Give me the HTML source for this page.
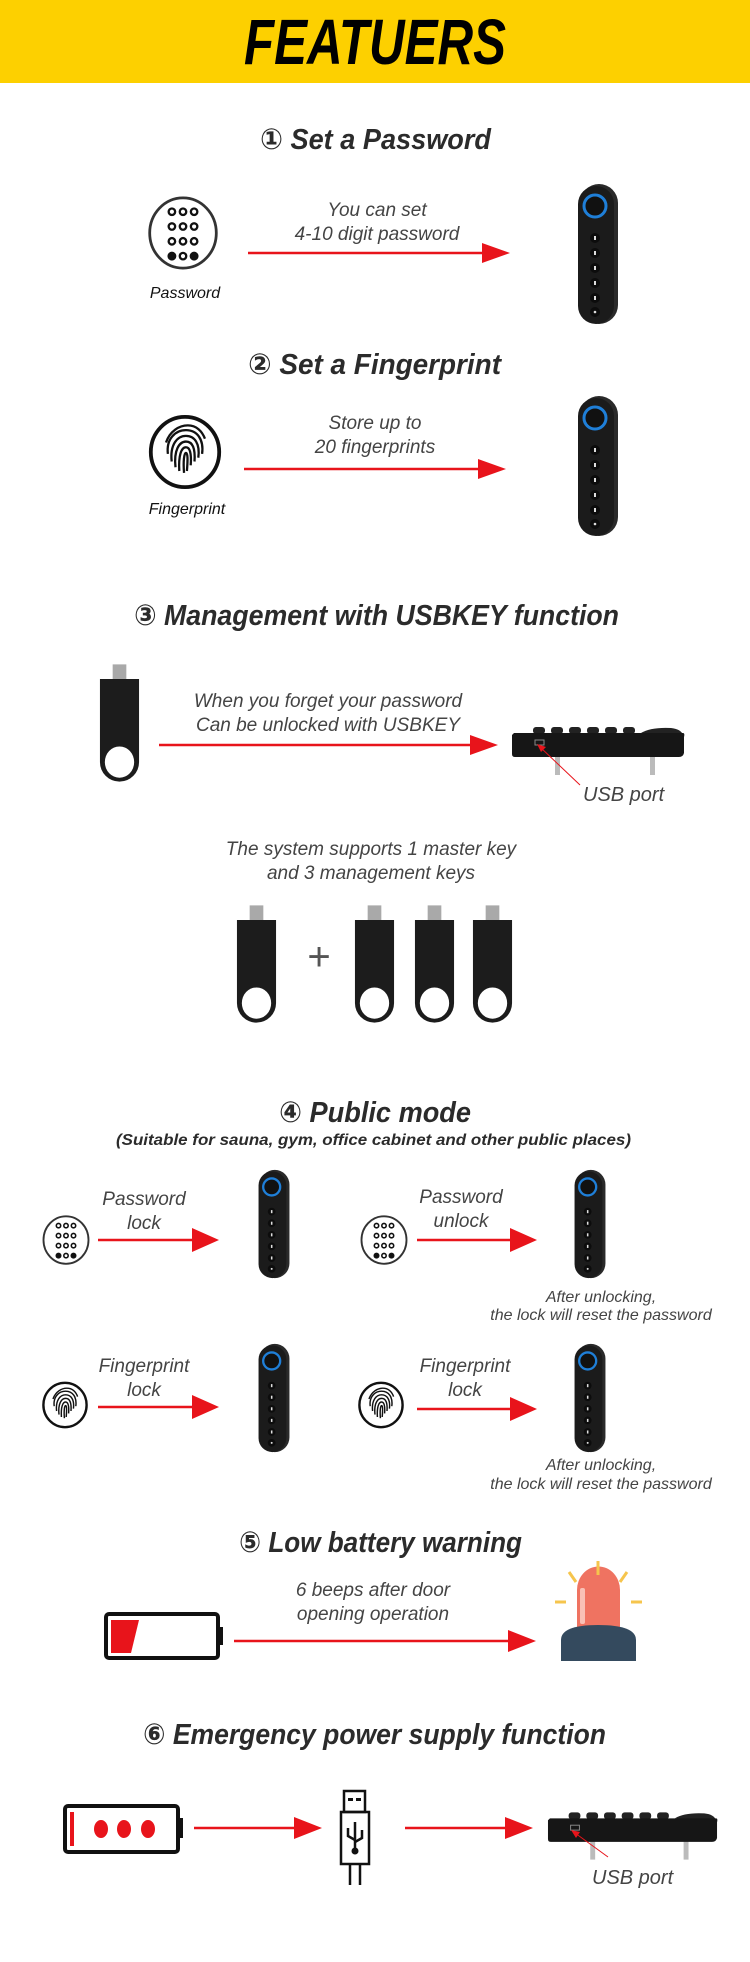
<!DOCTYPE html>
<html><head><meta charset="utf-8"><style>
html,body{margin:0;padding:0;background:#fff}
svg{display:block}
.t{font-family:"Liberation Sans","DejaVu Sans",sans-serif;font-weight:bold;font-style:italic;fill:#2b2b2b}
.b{font-family:"Liberation Sans","DejaVu Sans",sans-serif;font-style:italic;fill:#444;font-size:19px}
</style></head><body>
<svg width="750" height="1962" viewBox="0 0 750 1962" xmlns="http://www.w3.org/2000/svg">
<defs>
<symbol id="lock" viewBox="0 0 44 144">
<rect x="4" y="2" width="38" height="140" rx="19" fill="#2a2a2a"/>
<rect x="2" y="4" width="36" height="138" rx="18" fill="#1b1b1b"/>
<circle cx="19" cy="24" r="11" fill="#111" stroke="#1f7fd8" stroke-width="3"/>
<g fill="#0c0c0c"><circle cx="19" cy="56" r="5"/><circle cx="19" cy="71" r="5"/><circle cx="19" cy="86" r="5"/><circle cx="19" cy="101" r="5"/><circle cx="19" cy="116" r="5"/><circle cx="19" cy="130" r="5"/></g>
<g fill="#ddd"><rect x="18" y="54" width="2" height="4"/><rect x="18" y="69" width="2" height="4"/><rect x="18" y="84" width="2" height="4"/><rect x="18" y="99" width="2" height="4"/><rect x="18" y="114" width="2" height="4"/><circle cx="19" cy="130" r="1.3"/></g>
</symbol>
<symbol id="key" viewBox="0 0 44 122">
<rect x="15" y="0" width="14" height="15" fill="#a9a9a9"/>
<path d="M2 15H42V100A20 20 0 0 1 2 100Z" fill="#1c1c1c"/>
<ellipse cx="22" cy="100" rx="15" ry="16" fill="#fff"/>
</symbol>
<symbol id="pad" viewBox="0 0 80 80">
<ellipse cx="40" cy="40" rx="36" ry="38" fill="#fff" stroke="#333" stroke-width="3"/>
<g fill="none" stroke="#111" stroke-width="2.5">
<circle cx="28" cy="17" r="3.5"/><circle cx="40" cy="17" r="3.5"/><circle cx="52" cy="17" r="3.5"/>
<circle cx="28" cy="33" r="3.5"/><circle cx="40" cy="33" r="3.5"/><circle cx="52" cy="33" r="3.5"/>
<circle cx="28" cy="49" r="3.5"/><circle cx="40" cy="49" r="3.5"/><circle cx="52" cy="49" r="3.5"/>
<circle cx="40" cy="65" r="3.5"/></g>
<circle cx="28" cy="65" r="4.8" fill="#111"/><circle cx="52" cy="65" r="4.8" fill="#111"/>
</symbol>
<symbol id="fp" viewBox="0 0 80 80">
<ellipse cx="40" cy="40" rx="36" ry="37" fill="#fff" stroke="#111" stroke-width="4"/>
<g fill="none" stroke="#111" stroke-width="2.4">
<path d="M22 42C20 26 30 17 41 17C53 17 60 27 58 42"/>
<path d="M26 50C24 32 32 23 41 23C50 23 56 31 54 46"/>
<path d="M30 56C28 38 34 29 41 29C48 29 51 36 50 50"/>
<path d="M34 60C33 44 36 35 41 35C45 35 47 41 46 54"/>
<path d="M39 62C38 50 39 41 41 41C43 41 43 48 42 60"/>
<path d="M20 30C24 18 34 12 43 12C52 12 58 18 61 26"/>
</g>
</symbol>
<symbol id="dev" viewBox="0 0 175 50">
<g fill="#222"><rect x="22" y="0" width="12" height="7" rx="3"/><rect x="40" y="0" width="12" height="7" rx="3"/><rect x="58" y="0" width="12" height="7" rx="3"/><rect x="76" y="0" width="12" height="7" rx="3"/><rect x="94" y="0" width="12" height="7" rx="3"/><rect x="112" y="0" width="12" height="7" rx="3"/><path d="M130 6Q140 0 160 1Q170 2 172 8Z"/></g>
<rect x="44" y="28" width="5" height="20" fill="#bbb"/><rect x="139" y="28" width="5" height="20" fill="#bbb"/>
<path d="M3 6H172Q174 6 173 10V26Q172 30 168 30H4Q1 30 1 27V8Z" fill="#161616"/>
<rect x="24" y="13" width="9" height="5" fill="none" stroke="#888" stroke-width="1"/>
</symbol>
</defs>

<rect x="0" y="0" width="750" height="83" fill="#fdd000"/>
<text class="t" x="375" y="64" text-anchor="middle" font-size="64" fill="#000" style="fill:#000" textLength="262" lengthAdjust="spacingAndGlyphs">FEATUERS</text>

<!-- section 1 -->
<text class="t" x="260" y="149" font-size="29" textLength="231" lengthAdjust="spacingAndGlyphs">① Set a Password</text>
<use href="#pad" x="146" y="196" width="74" height="74"/>
<text class="b" x="185" y="298" text-anchor="middle" font-size="16" style="font-size:16px;fill:#111">Password</text>
<text class="b" x="377" y="216" text-anchor="middle">You can set</text>
<text class="b" x="377" y="240" text-anchor="middle">4-10 digit password</text>
<line x1="248" y1="253" x2="486" y2="253" stroke="#e8141b" stroke-width="2.5"/>
<polygon points="482,243 510,253 482,263" fill="#e8141b"/>
<use href="#lock" x="576" y="182" width="44" height="144"/>

<!-- section 2 -->
<text class="t" x="248" y="374" font-size="29" textLength="253" lengthAdjust="spacingAndGlyphs">② Set a Fingerprint</text>
<use href="#fp" x="147" y="414" width="76" height="76"/>
<text class="b" x="187" y="514" text-anchor="middle" style="font-size:16px;fill:#111">Fingerprint</text>
<text class="b" x="375" y="429" text-anchor="middle">Store up to</text>
<text class="b" x="375" y="453" text-anchor="middle">20 fingerprints</text>
<line x1="244" y1="469" x2="482" y2="469" stroke="#e8141b" stroke-width="2.5"/>
<polygon points="478,459 506,469 478,479" fill="#e8141b"/>
<use href="#lock" x="576" y="394" width="44" height="144"/>

<!-- section 3 -->
<text class="t" x="134" y="625" font-size="29" textLength="485" lengthAdjust="spacingAndGlyphs">③ Management with USBKEY function</text>
<use href="#key" x="98" y="663" width="43" height="122"/>
<text class="b" x="328" y="707" text-anchor="middle">When you forget your password</text>
<text class="b" x="328" y="731" text-anchor="middle">Can be unlocked with USBKEY</text>
<line x1="159" y1="745" x2="474" y2="745" stroke="#e8141b" stroke-width="2.5"/>
<polygon points="470,735 498,745 470,755" fill="#e8141b"/>
<use href="#dev" x="511" y="727" width="175" height="50"/>
<line x1="540" y1="747" x2="580" y2="785" stroke="#e8141b" stroke-width="1"/>
<polygon points="537,744 546,747 541,752" fill="#e8141b"/>
<text class="b" x="583" y="801" style="font-size:20px">USB port</text>
<text class="b" x="371" y="855" text-anchor="middle">The system supports 1 master key</text>
<text class="b" x="371" y="879" text-anchor="middle">and 3 management keys</text>
<use href="#key" x="235" y="904" width="43" height="122"/>
<text x="319" y="970" text-anchor="middle" font-family="Liberation Sans,sans-serif" font-size="40" fill="#555">+</text>
<use href="#key" x="353" y="904" width="43" height="122"/>
<use href="#key" x="413" y="904" width="43" height="122"/>
<use href="#key" x="471" y="904" width="43" height="122"/>

<!-- section 4 -->
<text class="t" x="279" y="1122" font-size="29" textLength="192" lengthAdjust="spacingAndGlyphs">④ Public mode</text>
<text class="t" x="116" y="1145" font-size="16" textLength="515" lengthAdjust="spacingAndGlyphs">(Suitable for sauna, gym, office cabinet and other public places)</text>

<use href="#pad" x="41" y="1214" width="50" height="52"/>
<text class="b" x="144" y="1205" text-anchor="middle">Password</text>
<text class="b" x="144" y="1229" text-anchor="middle">lock</text>
<line x1="98" y1="1240" x2="198" y2="1240" stroke="#e8141b" stroke-width="2.5"/>
<polygon points="192,1228 219,1240 192,1252" fill="#e8141b"/>
<use href="#lock" x="257" y="1168" width="34" height="112"/>

<use href="#pad" x="359" y="1214" width="50" height="52"/>
<text class="b" x="461" y="1203" text-anchor="middle">Password</text>
<text class="b" x="461" y="1227" text-anchor="middle">unlock</text>
<line x1="417" y1="1240" x2="515" y2="1240" stroke="#e8141b" stroke-width="2.5"/>
<polygon points="510,1228 537,1240 510,1252" fill="#e8141b"/>
<use href="#lock" x="573" y="1168" width="34" height="112"/>
<text class="b" x="601" y="1302" text-anchor="middle" style="font-size:16px">After unlocking,</text>
<text class="b" x="601" y="1320" text-anchor="middle" style="font-size:16px">the lock will reset the password</text>

<use href="#fp" x="41" y="1380" width="48" height="50"/>
<text class="b" x="144" y="1372" text-anchor="middle">Fingerprint</text>
<text class="b" x="144" y="1396" text-anchor="middle">lock</text>
<line x1="98" y1="1407" x2="198" y2="1407" stroke="#e8141b" stroke-width="2.5"/>
<polygon points="192,1395 219,1407 192,1419" fill="#e8141b"/>
<use href="#lock" x="257" y="1342" width="34" height="112"/>

<use href="#fp" x="357" y="1380" width="48" height="50"/>
<text class="b" x="465" y="1372" text-anchor="middle">Fingerprint</text>
<text class="b" x="465" y="1396" text-anchor="middle">lock</text>
<line x1="417" y1="1409" x2="515" y2="1409" stroke="#e8141b" stroke-width="2.5"/>
<polygon points="510,1397 537,1409 510,1421" fill="#e8141b"/>
<use href="#lock" x="573" y="1342" width="34" height="112"/>
<text class="b" x="601" y="1470" text-anchor="middle" style="font-size:16px">After unlocking,</text>
<text class="b" x="601" y="1489" text-anchor="middle" style="font-size:16px">the lock will reset the password</text>

<!-- section 5 -->
<text class="t" x="239" y="1552" font-size="29" textLength="283" lengthAdjust="spacingAndGlyphs">⑤ Low battery warning</text>
<rect x="106" y="1614" width="112" height="44" rx="3" fill="#fff" stroke="#111" stroke-width="4"/>
<rect x="218" y="1627" width="5" height="18" fill="#111"/>
<polygon points="111,1620 139,1620 131,1653 111,1653" fill="#e8141b"/>
<text class="b" x="373" y="1596" text-anchor="middle">6 beeps after door</text>
<text class="b" x="373" y="1620" text-anchor="middle">opening operation</text>
<line x1="234" y1="1641" x2="512" y2="1641" stroke="#e8141b" stroke-width="2.5"/>
<polygon points="508,1630 536,1641 508,1652" fill="#e8141b"/>
<g>
<path d="M577 1627V1590A21 23 0 0 1 620 1590V1627Z" fill="#ef7361"/>
<rect x="580" y="1588" width="5" height="36" rx="2" fill="#f9c0b5"/>
<path d="M561 1661V1640Q561 1625 598 1625Q636 1625 636 1640V1661Z" fill="#344a5e"/>
<g stroke="#f6c54d" stroke-width="3"><line x1="598" y1="1561" x2="598" y2="1575"/><line x1="569" y1="1572" x2="576" y2="1582"/><line x1="627" y1="1572" x2="620" y2="1582"/><line x1="555" y1="1602" x2="566" y2="1602"/><line x1="631" y1="1602" x2="642" y2="1602"/></g>
</g>

<!-- section 6 -->
<text class="t" x="143" y="1744" font-size="29" textLength="463" lengthAdjust="spacingAndGlyphs">⑥ Emergency power supply function</text>
<rect x="65" y="1806" width="113" height="46" rx="3" fill="#fff" stroke="#111" stroke-width="4"/>
<rect x="178" y="1818" width="5" height="20" fill="#111"/>
<rect x="70" y="1812" width="4" height="34" fill="#e8141b"/>
<ellipse cx="101" cy="1829" rx="7" ry="9" fill="#e8141b"/>
<ellipse cx="124" cy="1829" rx="7" ry="9" fill="#e8141b"/>
<ellipse cx="148" cy="1829" rx="7" ry="9" fill="#e8141b"/>
<line x1="194" y1="1828" x2="297" y2="1828" stroke="#e8141b" stroke-width="2.5"/>
<polygon points="294,1817 322,1828 294,1839" fill="#e8141b"/>
<g fill="none" stroke="#111" stroke-width="2.5">
<rect x="344" y="1791" width="21" height="21"/><rect x="341" y="1812" width="28" height="52"/>
<line x1="350" y1="1865" x2="350" y2="1885"/><line x1="360" y1="1865" x2="360" y2="1885"/>
<line x1="355" y1="1822" x2="355" y2="1850"/><path d="M348 1828V1836L355 1840M362 1830V1838L355 1842"/>
</g>
<rect x="348" y="1798" width="5" height="3" fill="#111"/><rect x="356" y="1798" width="5" height="3" fill="#111"/>
<circle cx="355" cy="1851" r="3.5" fill="#111"/>
<line x1="405" y1="1828" x2="508" y2="1828" stroke="#e8141b" stroke-width="2.5"/>
<polygon points="505,1817 533,1828 505,1839" fill="#e8141b"/>
<use href="#dev" x="547" y="1812" width="172" height="50"/>
<line x1="575" y1="1833" x2="608" y2="1857" stroke="#e8141b" stroke-width="1"/>
<polygon points="571,1830 580,1832 576,1838" fill="#e8141b"/>
<text class="b" x="592" y="1884" style="font-size:20px">USB port</text>
</svg>
</body></html>
